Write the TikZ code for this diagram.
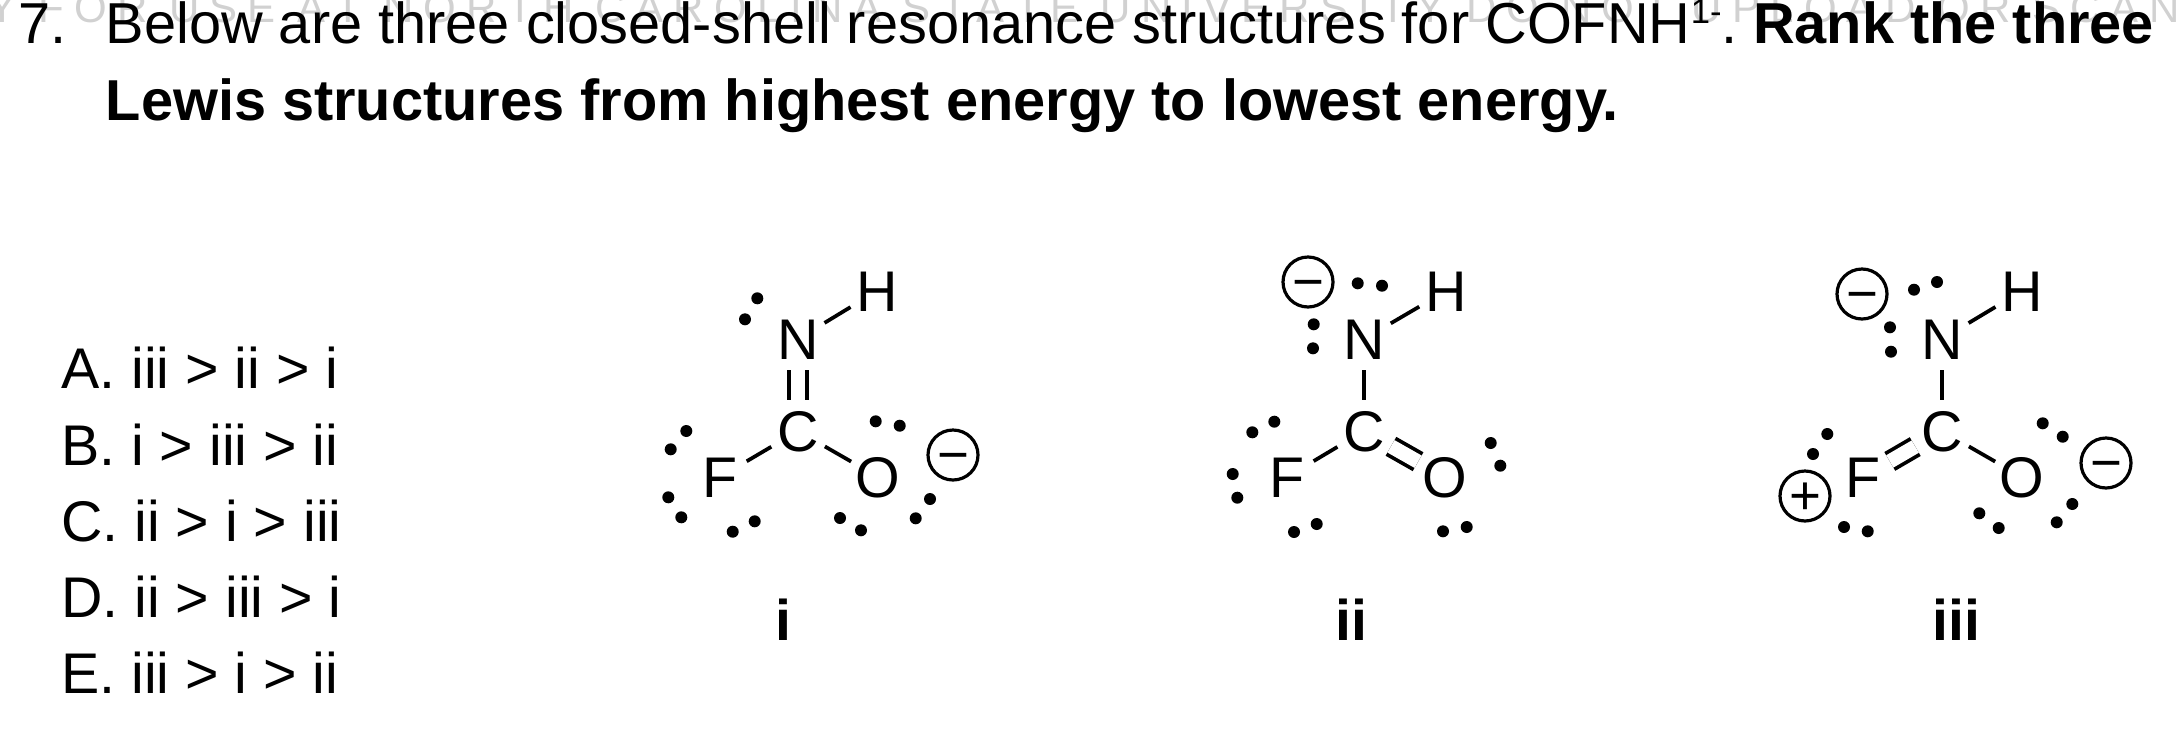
\documentclass[tikz,border=0pt]{standalone}
\usepackage{fontspec}
\setmainfont{Liberation Sans}
\newfontfamily\wmfont[LetterSpace=24.2,Kerning=Off]{Liberation Sans}
\begin{document}
\begin{tikzpicture}[x=0.75pt,y=0.75pt,yscale=-1,xscale=1,
	atom/.style={circle,inner sep=0pt,outer sep=0pt,minimum size=46.5pt,text height=31pt,text depth=0pt,font=\fontsize{43}{43}\selectfont},
	bondline/.style={line width=2.8pt},
	dbond/.style={line width=2.8pt,double,double distance between line centers=13.5pt},
	lonepair/.style={fill=black},
	chargering/.style={circle,draw,line width=2.4pt,inner sep=0pt,minimum size=37.5pt,text height=28pt,text depth=0pt,font=\fontsize{41}{41}\selectfont},
	structlabel/.style={anchor=base,inner sep=0pt,font=\fontsize{43}{43}\selectfont\bfseries},
	listtext/.style={anchor=base west,inner sep=0pt,font=\fontsize{43}{43}\selectfont},
	headtext/.style={anchor=base west,inner sep=0pt,font=\fontsize{43.3}{43.3}\selectfont},
	stamptext/.style={anchor=base west,inner sep=0pt,text=black!18,font=\fontsize{31.5}{31.5}\wmfont}]
	\useasboundingbox (0,0) rectangle (2180,754);

	\node [stamptext] (stamp) at (-128.5,22) {ONLY FOR USE AT NORTH CAROLINA STATE UNIVERSITY DO NOT UPLOAD OR SCAN};

	\node [headtext] (qnum) at (18,43) {7.};
	\node [headtext] (qline1) at (105.5,43) {Below are three closed-shell resonance structures for COFNH\raisebox{15pt}{\fontsize{26}{26}\selectfont 1-}. \hspace{-4.5pt}\textbf{Rank the three}};
	\node [headtext] (qline2) at (105.5,120) {\textbf{Lewis structures from highest energy to lowest energy.}};

	\node [listtext] (optA) at (61,388) {A. iii > ii > i};
	\node [listtext] (optB) at (61,465) {B. i > iii > ii};
	\node [listtext] (optC) at (61,541) {C. ii > i > iii};
	\node [listtext] (optD) at (61,617) {D. ii > iii > i};
	\node [listtext] (optE) at (61,693) {E. iii > i > ii};

	% structure i
	\node [atom] (H1) at (877,291) {H};
	\node [atom] (N1) at (798,339) {N};
	\node [atom] (C1) at (798,431) {C};
	\node [atom] (F1) at (720,477) {F};
	\node [atom] (O1) at (878,477) {O};
	\node [chargering] (minusO1) at (953,455) {−};
	\node [structlabel] (label1) at (783,640) {i};
	\draw [bondline] (N1) -- (H1);
	\draw [dbond] (N1) -- (C1);
	\draw [bondline] (C1) -- (F1);
	\draw [bondline] (C1) -- (O1);
	\fill [lonepair] (757.3,298.3) circle (6);
	\fill [lonepair] (745,319.3) circle (6);
	\fill [lonepair] (686.3,431) circle (6);
	\fill [lonepair] (670.7,449.3) circle (6);
	\fill [lonepair] (668.3,497.3) circle (6);
	\fill [lonepair] (681.3,517.3) circle (6);
	\fill [lonepair] (732.7,531.7) circle (6);
	\fill [lonepair] (754.7,521.3) circle (6);
	\fill [lonepair] (875.7,421.3) circle (6);
	\fill [lonepair] (899.7,425.7) circle (6);
	\fill [lonepair] (840,518) circle (6);
	\fill [lonepair] (861,530.3) circle (6);
	\fill [lonepair] (915.7,518.3) circle (6);
	\fill [lonepair] (930,499) circle (6);

	% structure ii
	\node [atom] (H2) at (1446,291) {H};
	\node [atom] (N2) at (1364,339) {N};
	\node [atom] (C2) at (1364,431) {C};
	\node [atom] (F2) at (1287,477) {F};
	\node [atom] (O2) at (1445,477) {O};
	\node [chargering] (minusN2) at (1308,282) {−};
	\node [structlabel] (label2) at (1351,640) {ii};
	\draw [bondline] (N2) -- (H2);
	\draw [bondline] (N2) -- (C2);
	\draw [bondline] (C2) -- (F2);
	\draw [dbond] (C2) -- (O2);
	\fill [lonepair] (1357.7,283.3) circle (6);
	\fill [lonepair] (1382,285.7) circle (6);
	\fill [lonepair] (1313.7,324.3) circle (6);
	\fill [lonepair] (1313,348.3) circle (6);
	\fill [lonepair] (1274.3,421.7) circle (6);
	\fill [lonepair] (1252.3,432.3) circle (6);
	\fill [lonepair] (1232.7,474) circle (6);
	\fill [lonepair] (1237.3,497.7) circle (6);
	\fill [lonepair] (1294,532) circle (6);
	\fill [lonepair] (1316.7,524) circle (6);
	\fill [lonepair] (1490.7,443) circle (6);
	\fill [lonepair] (1500.3,465.7) circle (6);
	\fill [lonepair] (1443,531.3) circle (6);
	\fill [lonepair] (1466.7,527) circle (6);

	% structure iii
	\node [atom] (H3) at (2022,291) {H};
	\node [atom] (N3) at (1942,339) {N};
	\node [atom] (C3) at (1942,431) {C};
	\node [atom] (F3) at (1863,477) {F};
	\node [atom] (O3) at (2022,477) {O};
	\node [chargering] (minusN3) at (1862,294) {−};
	\node [chargering] (minusO3) at (2106,463) {−};
	\node [chargering] (plusF3) at (1805,496) {+};
	\node [structlabel] (label3) at (1956,640) {iii};
	\draw [bondline] (N3) -- (H3);
	\draw [bondline] (N3) -- (C3);
	\draw [dbond] (C3) -- (F3);
	\draw [bondline] (C3) -- (O3);
	\fill [lonepair] (1914,289.7) circle (6);
	\fill [lonepair] (1937,282) circle (6);
	\fill [lonepair] (1890,327.3) circle (6);
	\fill [lonepair] (1891,351.7) circle (6);
	\fill [lonepair] (1827.3,434) circle (6);
	\fill [lonepair] (1813,454) circle (6);
	\fill [lonepair] (1844,527) circle (6);
	\fill [lonepair] (1867.7,531.3) circle (6);
	\fill [lonepair] (2042.7,423.3) circle (6);
	\fill [lonepair] (2062.7,436.7) circle (6);
	\fill [lonepair] (1979.3,513.3) circle (6);
	\fill [lonepair] (1998.7,528) circle (6);
	\fill [lonepair] (2056.7,522.3) circle (6);
	\fill [lonepair] (2072.3,504) circle (6);
\end{tikzpicture}
\end{document}
